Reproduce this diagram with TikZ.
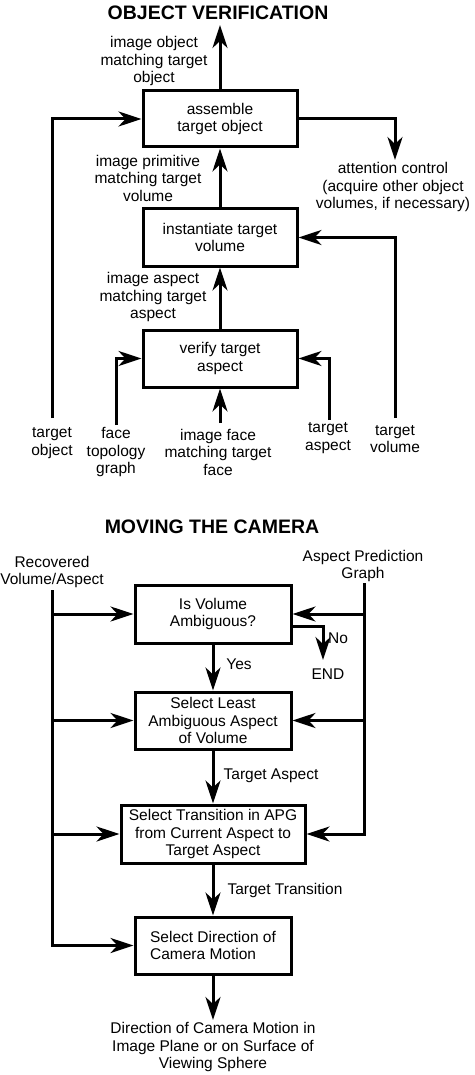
\documentclass[tikz,border=0pt]{standalone}
\usepackage{fontspec}
\setmainfont{Liberation Sans}
\usetikzlibrary{arrows.meta}
\begin{document}
\begin{tikzpicture}[x=1pt,y=-1pt,
  every node/.style={font=\fontsize{15.5}{17.5}\selectfont, inner sep=0pt, align=center},
  box/.style={draw, line width=3pt, minimum width=154pt},
  lbl/.style={},
  ttl/.style={font=\fontsize{19.5}{22}\selectfont\bfseries},
  conn/.style={line width=3pt},
  arr/.style={conn, -{Stealth[length=23pt,width=15pt,inset=7pt]}}]
\useasboundingbox[fill=white] (0,0) rectangle (474,1075);

% ---------- OBJECT VERIFICATION ----------
\node[ttl] (t1) at (218,13) {OBJECT VERIFICATION};
\node[box, minimum height=56pt] (asm) at (220,119) {assemble\\target object};
\node[box, minimum height=57pt] (inst) at (220,237.5) {instantiate target\\volume};
\node[box, minimum height=57pt] (ver) at (220,358.5) {verify target\\aspect};

\node[lbl] (limo) at (154,61) {image object\\matching target\\object};
\node[lbl] (limp) at (148,178) {image primitive\\matching target\\volume};
\node[lbl] (lima) at (153,297) {image aspect\\matching target\\aspect};
\node[lbl] (latt) at (393,187) {attention control\\(acquire other object\\volumes, if necessary)};
\node[lbl] (ltobj) at (52,443) {target\\object};
\node[lbl] (lftg) at (116,452) {face\\topology\\graph};
\node[lbl] (limf) at (218,452) {image face\\matching target\\face};
\node[lbl] (ltasp) at (328,438) {target\\aspect};
\node[lbl] (ltvol) at (395,439) {target\\volume};

\coordinate (ctop) at (220,25);
\coordinate (catt) at (395,160);
\coordinate (ctobj) at (52,418);
\coordinate (ctvol) at (395,418);
\coordinate (cftg) at (116,425);
\coordinate (ctasp) at (329,420);
\coordinate (cimf) at (220,423);

\draw[arr] (asm.north) -- (ctop);
\draw[arr] (asm.east) -| (catt);
\draw[arr] (ctobj) |- (asm.west);
\draw[arr] (inst.north) -- (asm.south);
\draw[arr] (ctvol) |- (inst.east);
\draw[arr] (ver.north) -- (inst.south);
\draw[arr] (cftg) |- (ver.west);
\draw[arr] (ctasp) |- (ver.east);
\draw[arr] (cimf) -- (ver.south);

% ---------- MOVING THE CAMERA ----------
\node[ttl] (t2) at (212,527) {MOVING THE CAMERA};
\node[lbl] (lrv) at (52,572) {Recovered\\Volume/Aspect};
\node[lbl] (lapg) at (363,566) {Aspect Prediction\\Graph};

\node[box, minimum width=156pt, minimum height=58pt] (b1) at (213,614) {Is Volume\\Ambiguous?};
\node[box, minimum width=156pt, minimum height=57pt] (b2) at (213,720.5) {Select Least\\Ambiguous Aspect\\of Volume};
\node[box, minimum width=184pt, minimum height=58pt] (b3) at (213,834) {Select Transition in APG\\from Current Aspect to\\Target Aspect};
\node[box, minimum width=156pt, minimum height=57pt, align=left] (b4) at (213,945.5) {Select Direction of\\Camera Motion};

\node[lbl] (lno) at (338,638) {No};
\node[lbl] (lend) at (328,674) {END};
\node[lbl] (lyes) at (239,664) {Yes};
\node[lbl] (lta) at (271,776) {Target Aspect};
\node[lbl] (ltt) at (285,890) {Target Transition};
\node[lbl] (lout) at (213,1047) {Direction of Camera Motion in\\Image Plane or on Surface of\\Viewing Sphere};

\coordinate (crv) at (52,590);
\coordinate (capg) at (364,583);
\coordinate (cend) at (323,660);
\coordinate (cno) at (291,626);
\coordinate (cout) at (213,1020);

\draw[arr] (crv) |- (b4.west);
\draw[arr] (crv |- b1.west) -- (b1.west);
\draw[arr] (crv |- b2.west) -- (b2.west);
\draw[arr] (crv |- b3.west) -- (b3.west);
\draw[arr] (capg) |- (b3.east);
\draw[arr] (capg |- b1.east) -- (b1.east);
\draw[arr] (capg |- b2.east) -- (b2.east);
\draw[arr] (cno) -| (cend);
\draw[arr] (b1.south) -- (b2.north);
\draw[arr] (b2.south) -- (b3.north);
\draw[arr] (b3.south) -- (b4.north);
\draw[arr] (b4.south) -- (cout);
\end{tikzpicture}
\end{document}
